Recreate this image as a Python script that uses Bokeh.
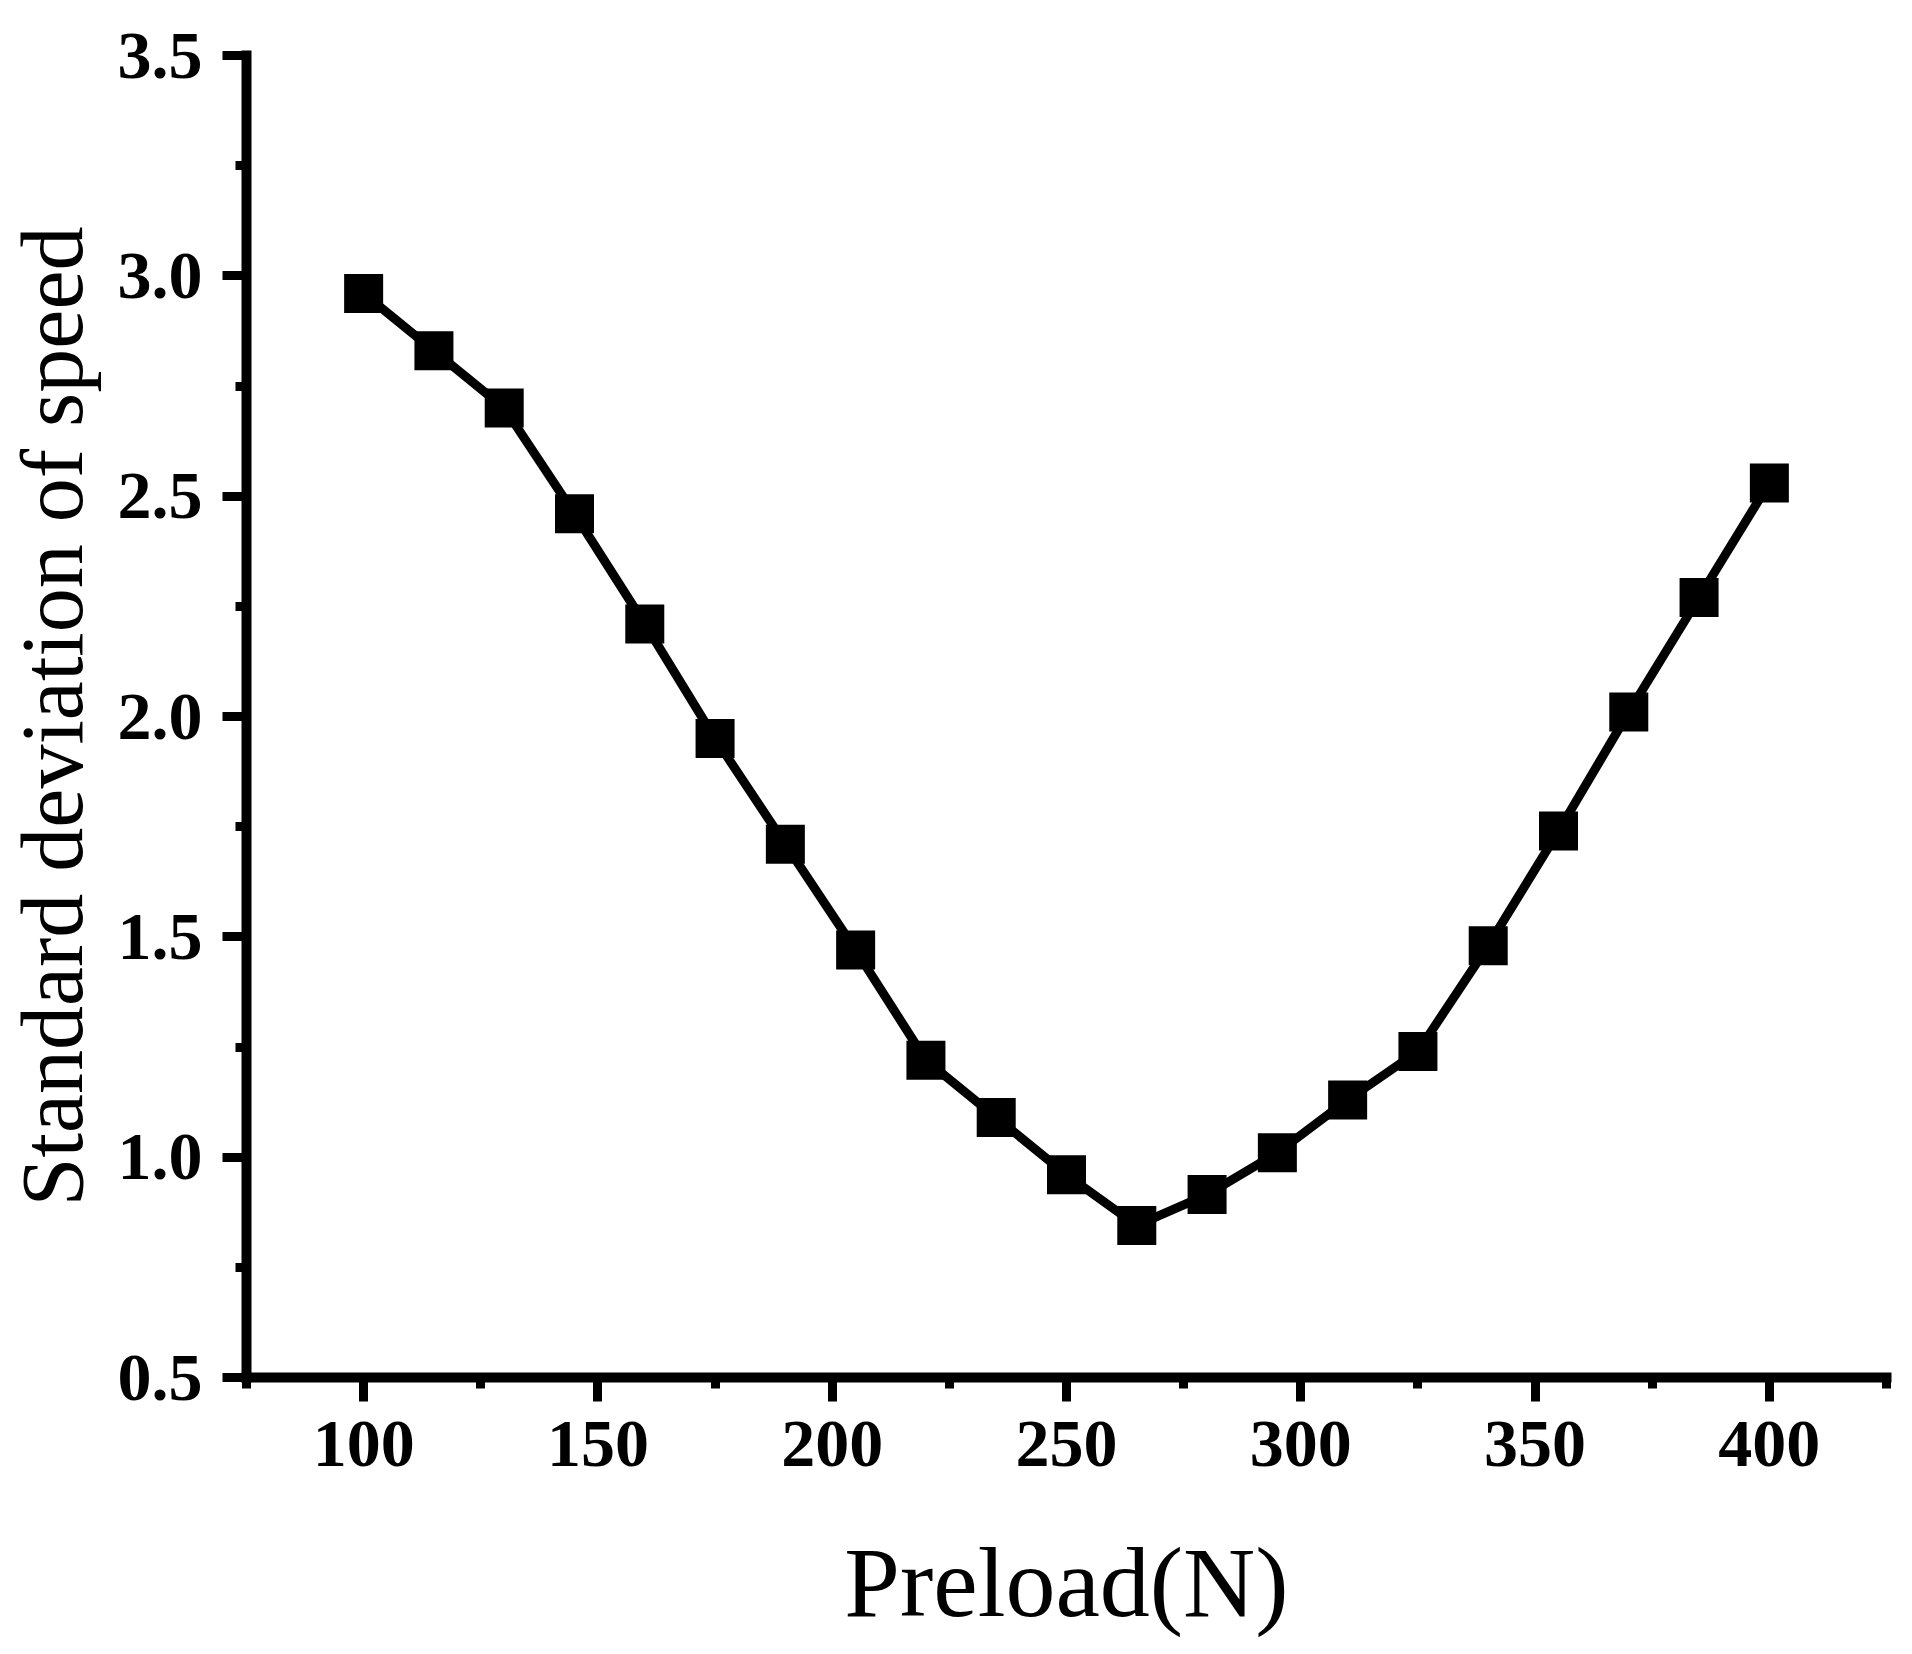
from bokeh.plotting import figure
from bokeh.models import FixedTicker, Range1d, PrintfTickFormatter
from bokeh.embed import file_html
from bokeh.resources import INLINE

preload = [100, 115, 130, 145, 160, 175, 190, 205, 220, 235, 250,
           265, 280, 295, 310, 325, 340, 355, 370, 385, 400]
std_speed = [2.96, 2.83, 2.70, 2.46, 2.21, 1.95, 1.71, 1.47, 1.22, 1.09, 0.96,
             0.845, 0.915, 1.01, 1.13, 1.24, 1.48, 1.74, 2.01, 2.27, 2.53]

x_ticks = [100, 150, 200, 250, 300, 350, 400]
x_minor = [75, 125, 175, 225, 275, 325, 375, 425]
y_ticks = [0.5, 1.0, 1.5, 2.0, 2.5, 3.0, 3.5]
y_minor = [0.75, 1.25, 1.75, 2.25, 2.75, 3.25]

FONT = "Liberation Serif"

p = figure(width=1896, height=1640, output_backend="svg", toolbar_location=None,
           x_range=Range1d(75, 425), y_range=Range1d(0.5, 3.5),
           min_border_left=243, min_border_right=10, min_border_top=55,
           min_border_bottom=263)
p.outline_line_color = None
p.grid.visible = False
p.background_fill_color = "white"
p.border_fill_color = "white"

p.line(preload, std_speed, line_color="black", line_width=9)
p.scatter(preload, std_speed, marker="square", size=39, fill_color="black",
          line_color="black", line_width=0)

for ax in (p.xaxis[0], p.yaxis[0]):
    ax.axis_line_width = 10
    ax.axis_line_color = "black"
    ax.axis_line_cap = "square"
    ax.major_tick_line_width = 9
    ax.minor_tick_line_width = 9
    ax.major_tick_line_color = "black"
    ax.minor_tick_line_color = "black"
    ax.major_tick_out = 24
    ax.major_tick_in = 0
    ax.minor_tick_out = 11
    ax.minor_tick_in = 0
    ax.major_label_text_font = FONT
    ax.major_label_text_font_style = "bold"
    ax.major_label_text_font_size = "68px"
    ax.major_label_text_color = "black"
    ax.axis_label_text_font = FONT
    ax.axis_label_text_font_style = "normal"
    ax.axis_label_text_color = "black"

p.xaxis[0].ticker = FixedTicker(ticks=x_ticks, minor_ticks=x_minor)
p.yaxis[0].ticker = FixedTicker(ticks=y_ticks, minor_ticks=y_minor)
p.yaxis[0].formatter = PrintfTickFormatter(format="%.1f")

p.xaxis[0].major_label_standoff = 20
p.yaxis[0].major_label_standoff = 20

p.xaxis[0].axis_label = "Preload(N)"
p.xaxis[0].axis_label_text_font_size = "100px"
p.xaxis[0].axis_label_standoff = 58

p.yaxis[0].axis_label = "Standard deviation of speed"
p.yaxis[0].axis_label_text_font_size = "88px"
p.yaxis[0].axis_label_standoff = 14

open("out.html", "w").write(file_html(p, INLINE))
